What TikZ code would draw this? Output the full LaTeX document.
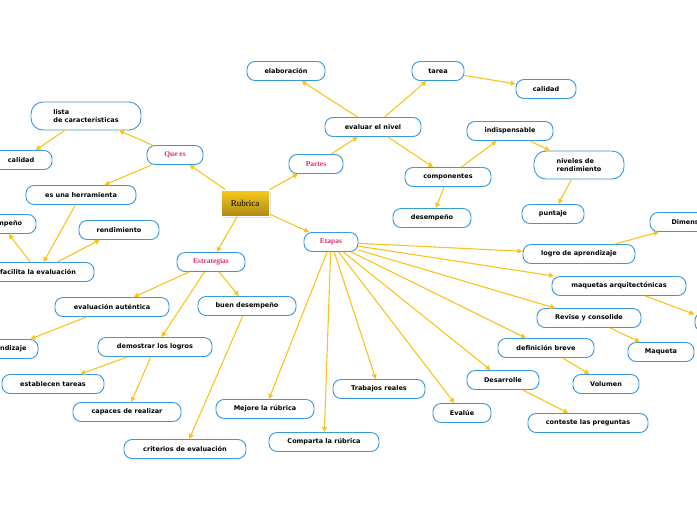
\documentclass[tikz,border=0pt]{standalone}
\usepackage{fontspec}
\setmainfont{DejaVu Sans}
\newfontfamily\serifx{Liberation Serif}
\usetikzlibrary{arrows.meta,shadows}
\definecolor{bl}{HTML}{3A9AD9}
\definecolor{ye}{HTML}{F7C51E}
\definecolor{pk}{HTML}{E0306A}
\begin{document}
\begin{tikzpicture}[x=1pt,y=-1pt,
 n/.style={draw=bl,line width=0.9pt,fill=white,rounded corners=8pt,minimum height=19pt,font=\fontsize{6.5}{7.5}\selectfont\bfseries,inner xsep=2pt,align=left},
 t/.style={n,font=\serifx\fontsize{7.5}{8}\selectfont\bfseries,text=pk},
 a/.style={draw=ye,line width=1.1pt,-{Triangle[length=5pt,width=5pt]}}]
\useasboundingbox (0,0) rectangle (697,520);
\begin{scope}
\clip (0,0) rectangle (697,520);
\node[draw=white,line width=1pt,fill=ye,top color=ye!90!yellow,bottom color=ye!70!black,minimum width=48pt,minimum height=26pt,drop shadow={shadow xshift=2pt,shadow yshift=-2pt,fill=black!25},font=\serifx\fontsize{9}{10}\selectfont] (R) at (245,203) {Rubrica};
\node[t,minimum width=56pt] (Q) at (175,155) {Que es};
\node[n,minimum width=110pt,minimum height=28pt,rounded corners=12pt] (L) at (86,116) {lista\\de características};
\node[n,minimum width=62pt] (C1) at (21,160) {calidad};
\node[n,minimum width=110pt] (H) at (81,195) {es una herramienta};
\node[n,minimum width=70pt] (D1) at (1,224) {desempeño};
\node[n,minimum width=80pt] (RE) at (119,230) {rendimiento};
\node[n,minimum width=112pt] (F) at (38,272) {facilita la evaluación};
\node[t,minimum width=68pt] (E) at (211,262) {Estrategias};
\node[n,minimum width=114pt] (EA) at (112,307) {evaluación auténtica};
\node[n,minimum width=66pt] (AP) at (5,349) {aprendizaje};
\node[n,minimum width=114pt] (DL) at (155,347) {demostrar los logros};
\node[n,minimum width=102pt] (ET) at (53,384) {establecen tareas};
\node[n,minimum width=108pt] (CR) at (127,412) {capaces de realizar};
\node[n,minimum width=98pt] (BD) at (247,306) {buen desempeño};
\node[n,minimum width=122pt] (CE) at (185,449) {criterios de evaluación};
\node[t,minimum width=54pt] (P) at (316,164) {Partes};
\node[n,minimum width=96pt] (EN) at (373,127) {evaluar el nivel};
\node[n,minimum width=78pt] (EL) at (286,71) {elaboración};
\node[n,minimum width=52pt] (TA) at (438,71) {tarea};
\node[n,minimum width=60pt] (C2) at (546,89) {calidad};
\node[n,minimum width=86pt] (CO) at (448,177) {componentes};
\node[n,minimum width=86pt] (IN) at (510,131) {indispensable};
\node[n,minimum width=90pt,minimum height=28pt,rounded corners=12pt] (NR) at (579,165) {niveles de\\rendimiento};
\node[n,minimum width=78pt] (D2) at (432,218) {desempeño};
\node[n,minimum width=62pt] (PU) at (553,214) {puntaje};
\node[t,minimum width=54pt] (EP) at (331,242) {Etapas};
\node[n,minimum width=112pt] (LA) at (579,254) {logro de aprendizaje};
\node[n,minimum width=90pt] (DI) at (695,222) {Dimensiones};
\node[n,minimum width=134pt] (MA) at (619,286) {maquetas arquitectónicas};
\node[n,minimum width=40pt] (X) at (715,322) {Escala};
\node[n,minimum width=104pt] (RC) at (589,318) {Revise y consolide};
\node[n,minimum width=66pt] (MQ) at (661,352) {Maqueta};
\node[n,minimum width=96pt] (DB) at (546,348) {definición breve};
\node[n,minimum width=66pt] (VO) at (606,384) {Volumen};
\node[n,minimum width=72pt] (DE) at (503,380) {Desarrolle};
\node[n,minimum width=120pt] (CP) at (588,423) {conteste las preguntas};
\node[n,minimum width=58pt] (EV) at (462,413) {Evalúe};
\node[n,minimum width=92pt] (TR) at (379,389) {Trabajos reales};
\node[n,minimum width=98pt] (MR) at (265,409) {Mejore la rúbrica};
\node[n,minimum width=110pt] (CM) at (324,442) {Comparta la rúbrica};
\foreach \s/\t in {R/Q,Q/L,L/C1,Q/H,H/F,F/RE,F/D1,R/P,P/EN,EN/EL,EN/TA,TA/C2,EN/CO,CO/IN,IN/NR,NR/PU,CO/D2,R/E,E/EA,E/DL,E/BD,EA/AP,DL/ET,DL/CR,BD/CE,R/EP,EP/LA,EP/MA,EP/RC,EP/DB,EP/DE,EP/EV,EP/TR,EP/MR,EP/CM,LA/DI,MA/X,RC/MQ,DB/VO,DE/CP}
  \draw[a] (\s) -- (\t);
\end{scope}
\end{tikzpicture}
\end{document}
